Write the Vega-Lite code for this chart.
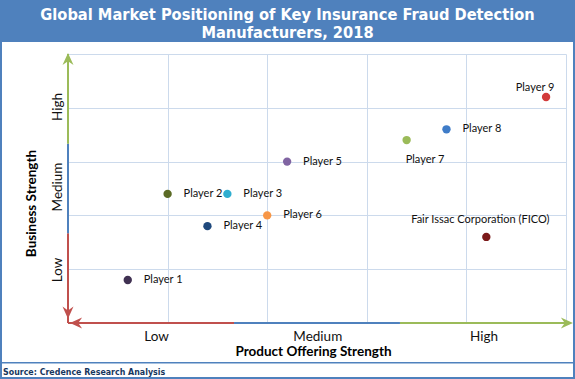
{
  "$schema": "https://vega.github.io/schema/vega-lite/v6.json",
  "width": 498,
  "height": 269,
  "autosize": {"type": "none"},
  "padding": {"left": 68, "top": 54, "right": 9, "bottom": 56},
  "background": "white",
  "config": {"view": {"stroke": null}, "font": "Lato"},
  "datasets": {
    "players": [
      {"name": "Player 1", "product": 0.6, "business": 0.8},
      {"name": "Player 2", "product": 1.0, "business": 2.4},
      {"name": "Player 3", "product": 1.6, "business": 2.4},
      {"name": "Player 4", "product": 1.4, "business": 1.8},
      {"name": "Player 5", "product": 2.2, "business": 3.0},
      {"name": "Player 6", "product": 2.0, "business": 2.0},
      {"name": "Player 7", "product": 3.4, "business": 3.4},
      {"name": "Player 8", "product": 3.8, "business": 3.6},
      {"name": "Player 9", "product": 4.8, "business": 4.2},
      {"name": "Fair Issac Corporation (FICO)", "product": 4.2, "business": 1.6}
    ],
    "levels": [
      {"level": "Low", "from": 0, "to": 1.667},
      {"level": "Medium", "from": 1.667, "to": 3.333},
      {"level": "High", "from": 3.333, "to": 5}
    ],
    "one": [{}]
  },
  "layer": [
    {
      "data": {"name": "one"},
      "mark": {"type": "rect", "fill": "#4F81BD"},
      "encoding": {
        "x": {"datum": -0.69},
        "x2": {"datum": 5.1},
        "y": {"datum": 5.223},
        "y2": {"datum": 6.3}
      }
    },
    {
      "data": {"name": "one"},
      "mark": {"type": "rect", "fill": null, "stroke": "#4F81BD", "strokeWidth": 2},
      "encoding": {
        "x": {"datum": -0.6727},
        "x2": {"datum": 5.0803},
        "y": {"datum": 5.985},
        "y2": {"datum": -1.0223}
      }
    },
    {
      "data": {"name": "one"},
      "mark": {"type": "rule", "stroke": "#4F81BD", "strokeWidth": 1.5},
      "encoding": {
        "x": {"datum": -0.69},
        "x2": {"datum": 5.1},
        "y": {"datum": -0.738}
      }
    },
    {
      "data": {"name": "one"},
      "mark": {"type": "text", "align": "left", "baseline": "alphabetic", "font": "DejaVu Sans Condensed", "fontWeight": "bold", "fontSize": 8.8, "fill": "#17375E"},
      "encoding": {
        "x": {"datum": -0.6526},
        "y": {"datum": -0.9665},
        "text": {"value": "Source: Credence Research Analysis"}
      }
    },
    {
      "data": {"name": "one"},
      "mark": {"type": "text", "align": "center", "baseline": "middle", "font": "DejaVu Sans Condensed", "fontWeight": "bold", "fontSize": 16.3, "lineHeight": 18, "fill": "white"},
      "encoding": {
        "x": {"datum": 2.204},
        "y": {"datum": 5.734},
        "text": {"value": ["Global Market Positioning of Key Insurance Fraud Detection", "Manufacturers, 2018"]}
      }
    },
    {
      "data": {"name": "levels"},
      "mark": {"type": "rule", "strokeWidth": 2},
      "encoding": {
        "x": {"datum": 0},
        "y": {"field": "from", "type": "quantitative"},
        "y2": {"field": "to"},
        "stroke": {"field": "level", "type": "nominal", "scale": {"domain": ["Low", "Medium", "High"], "range": ["#C0504D", "#4F81BD", "#9BBB59"]}, "legend": null}
      }
    },
    {
      "data": {"name": "levels"},
      "mark": {"type": "rule", "strokeWidth": 2},
      "encoding": {
        "y": {"datum": 0},
        "x": {"field": "from", "type": "quantitative"},
        "x2": {"field": "to"},
        "stroke": {"field": "level", "type": "nominal", "legend": null}
      }
    },
    {
      "data": {"name": "one"},
      "mark": {"type": "point", "shape": "M0,0L1,2.2L0,1.5L-1,2.2Z", "filled": true, "opacity": 1, "size": 121, "angle": 0, "color": "#9BBB59"},
      "encoding": {"x": {"datum": 0}, "y": {"datum": 5.02}}
    },
    {
      "data": {"name": "one"},
      "mark": {"type": "point", "shape": "M0,0L1,2.2L0,1.5L-1,2.2Z", "filled": true, "opacity": 1, "size": 121, "angle": 180, "color": "#C0504D"},
      "encoding": {"x": {"datum": 0}, "y": {"datum": 0.08}}
    },
    {
      "data": {"name": "one"},
      "mark": {"type": "point", "shape": "M0,0L1,2.2L0,1.5L-1,2.2Z", "filled": true, "opacity": 1, "size": 121, "angle": 270, "color": "#C0504D"},
      "encoding": {"x": {"datum": 0.02}, "y": {"datum": 0}}
    },
    {
      "data": {"name": "one"},
      "mark": {"type": "point", "shape": "M0,0L1,2.2L0,1.5L-1,2.2Z", "filled": true, "opacity": 1, "size": 121, "angle": 90, "color": "#9BBB59"},
      "encoding": {"x": {"datum": 5.07}, "y": {"datum": 0}}
    },
    {
      "data": {"name": "players"},
      "mark": {"type": "circle", "size": 70, "opacity": 1},
      "encoding": {
        "x": {
          "field": "product", "type": "quantitative",
          "scale": {"domain": [0, 5], "nice": false, "zero": false},
          "axis": {"values": [0, 1, 2, 3, 4, 5], "grid": true, "gridColor": "#CCDAEC", "gridWidth": 1, "domain": false, "ticks": false, "labels": false,
                   "title": "Product Offering Strength", "titleFont": "Lato", "titleFontSize": 13.5, "titleFontWeight": "bold", "titleColor": "#000000",
                   "titleBaseline": "alphabetic", "titleAlign": "center", "titleX": 245, "titleY": 32.5}
        },
        "y": {
          "field": "business", "type": "quantitative",
          "scale": {"domain": [0, 5], "nice": false, "zero": false},
          "axis": {"values": [0, 1, 2, 3, 4, 5], "grid": true, "gridColor": "#CCDAEC", "gridWidth": 1, "domain": false, "ticks": false, "labels": false,
                   "title": "Business Strength", "titleFont": "Lato", "titleFontSize": 13.5, "titleFontWeight": "bold", "titleColor": "#000000",
                   "titleAngle": 270, "titleBaseline": "alphabetic", "titleAlign": "center", "titleX": -33, "titleY": 149}
        },
        "color": {
          "field": "name", "type": "nominal", "legend": null,
          "scale": {
            "domain": ["Player 1", "Player 2", "Player 3", "Player 4", "Player 5", "Player 6", "Player 7", "Player 8", "Player 9", "Fair Issac Corporation (FICO)"],
            "range": ["#403152", "#5B6B25", "#2FAED0", "#1F497D", "#8064A2", "#F79646", "#9BBB59", "#3F7CC8", "#D23B3B", "#7B1A1A"]
          }
        }
      }
    },
    {
      "data": {"name": "players"},
      "transform": [{"filter": {"field": "name", "oneOf": ["Player 1", "Player 2", "Player 3", "Player 4", "Player 5", "Player 6", "Player 8"]}}],
      "mark": {"type": "text", "align": "left", "baseline": "middle", "dx": 16, "fontSize": 11, "fill": "#111111"},
      "encoding": {
        "x": {"field": "product", "type": "quantitative"},
        "y": {"field": "business", "type": "quantitative"},
        "text": {"field": "name"}
      }
    },
    {
      "data": {"name": "players"},
      "transform": [{"filter": {"field": "name", "equal": "Player 9"}}],
      "mark": {"type": "text", "align": "center", "baseline": "middle", "dx": -11, "dy": -9, "fontSize": 11, "fill": "#111111"},
      "encoding": {
        "x": {"field": "product", "type": "quantitative"},
        "y": {"field": "business", "type": "quantitative"},
        "text": {"field": "name"}
      }
    },
    {
      "data": {"name": "players"},
      "transform": [{"filter": {"field": "name", "equal": "Player 7"}}],
      "mark": {"type": "text", "align": "left", "baseline": "middle", "dx": -1, "dy": 20, "fontSize": 11, "fill": "#111111"},
      "encoding": {
        "x": {"field": "product", "type": "quantitative"},
        "y": {"field": "business", "type": "quantitative"},
        "text": {"field": "name"}
      }
    },
    {
      "data": {"name": "players"},
      "transform": [{"filter": {"field": "name", "equal": "Fair Issac Corporation (FICO)"}}],
      "mark": {"type": "text", "align": "center", "baseline": "middle", "dx": -6, "dy": -17, "fontSize": 11, "fill": "#111111"},
      "encoding": {
        "x": {"field": "product", "type": "quantitative"},
        "y": {"field": "business", "type": "quantitative"},
        "text": {"field": "name"}
      }
    },
    {
      "data": {"name": "one"},
      "mark": {"type": "text", "align": "center", "baseline": "alphabetic", "fontSize": 13.5, "fill": "#111111"},
      "encoding": {"x": {"datum": 0.889}, "y": {"datum": -0.334}, "text": {"value": "Low"}}
    },
    {
      "data": {"name": "one"},
      "mark": {"type": "text", "align": "center", "baseline": "alphabetic", "fontSize": 13.5, "fill": "#111111"},
      "encoding": {"x": {"datum": 2.508}, "y": {"datum": -0.334}, "text": {"value": "Medium"}}
    },
    {
      "data": {"name": "one"},
      "mark": {"type": "text", "align": "center", "baseline": "alphabetic", "fontSize": 13.5, "fill": "#111111"},
      "encoding": {"x": {"datum": 4.177}, "y": {"datum": -0.334}, "text": {"value": "High"}}
    },
    {
      "data": {"name": "one"},
      "mark": {"type": "text", "align": "center", "baseline": "middle", "angle": 270, "fontSize": 13.5, "fill": "#111111"},
      "encoding": {"x": {"datum": -0.1}, "y": {"datum": 0.985}, "text": {"value": "Low"}}
    },
    {
      "data": {"name": "one"},
      "mark": {"type": "text", "align": "center", "baseline": "middle", "angle": 270, "fontSize": 13.5, "fill": "#111111"},
      "encoding": {"x": {"datum": -0.1}, "y": {"datum": 2.528}, "text": {"value": "Medium"}}
    },
    {
      "data": {"name": "one"},
      "mark": {"type": "text", "align": "center", "baseline": "middle", "angle": 270, "fontSize": 13.5, "fill": "#111111"},
      "encoding": {"x": {"datum": -0.1}, "y": {"datum": 4.015}, "text": {"value": "High"}}
    }
  ]
}
